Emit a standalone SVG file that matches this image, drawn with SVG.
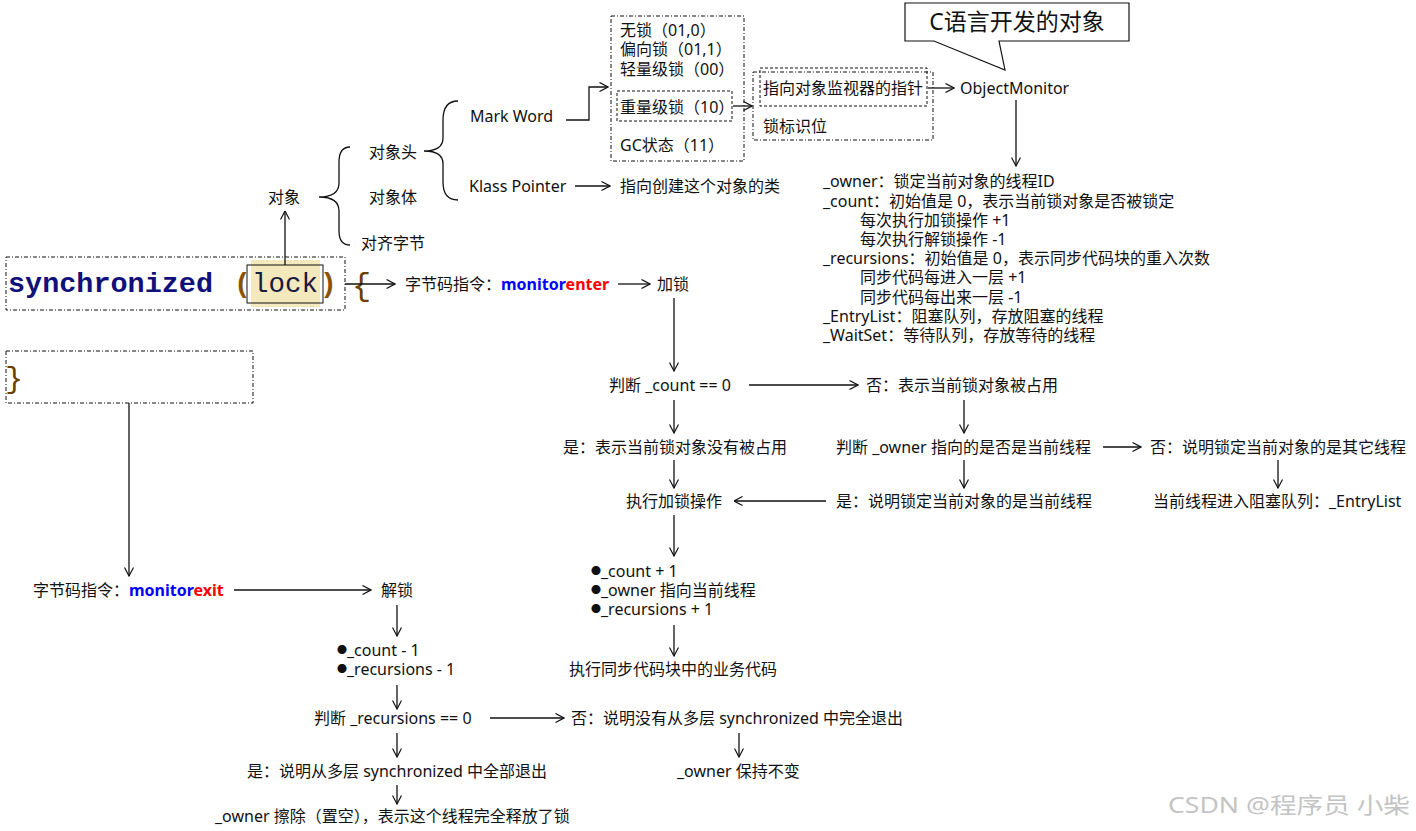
<svg xmlns="http://www.w3.org/2000/svg" width="1416" height="831" viewBox="0 0 1416 831">
<defs>
<marker id="arr" viewBox="0 0 10 10" refX="9.5" refY="5" markerWidth="10" markerHeight="10" markerUnits="userSpaceOnUse" orient="auto"><path d="M1,0.5 L9.5,5 L1,9.5" fill="none" stroke="#111" stroke-width="1.2"/></marker>
<style>
text{font-family:"Noto Sans","Noto Sans CJK SC",sans-serif;font-size:16px;fill:#111;dominant-baseline:central}
.code{font-family:"Liberation Mono","DejaVu Sans Mono",monospace;font-size:28px;font-weight:bold}
.b{font-weight:bold}
.blue{fill:#0000ff}
.red{fill:#ff0000}
.bul{font-size:10px}
.dd{fill:none;stroke:#111;stroke-width:1;stroke-dasharray:4 2 1 2}
.ds{fill:none;stroke:#111;stroke-width:1;stroke-dasharray:3 2}
.c{fill:none;stroke:#111;stroke-width:1.3}
.a{fill:none;stroke:#111;stroke-width:1.3;marker-end:url(#arr)}
</style>
</defs>
<rect width="1416" height="831" fill="#fff"/>

<g id="sync">
<rect class="dd" x="6" y="257" width="339" height="53"/>
<rect x="251" y="260" width="69" height="47" fill="#f4e8bd"/>
<rect x="247" y="265" width="76" height="38" fill="none" stroke="#111" stroke-width="1"/>
<text class="code" x="8" y="284" textLength="205" lengthAdjust="spacingAndGlyphs" style="fill:#10107a">synchronized</text>
<text class="code" x="234" y="284" style="fill:#8a5200">(</text>
<text class="code" x="252" y="284" textLength="66" lengthAdjust="spacingAndGlyphs" style="fill:#1a1a40;font-weight:normal">lock</text>
<text class="code" x="320" y="284" style="fill:#8a5200">)</text>
<text class="code" x="352" y="286" style="fill:#6a4000;font-weight:normal;font-size:32px">{</text>
</g>

<g id="closebrace">
<rect class="dd" x="6" y="351" width="247" height="52"/>
<text class="code" x="5" y="380" style="fill:#6a4000;font-weight:normal;font-size:30px">}</text>
</g>

<g id="obj">
<text x="268" y="197">对象</text>
<path class="c" d="M350,147 Q339,147 339,162 L339,183 Q339,197 319,197 Q339,197 339,211 L339,231 Q339,245 350,245"/>
<text x="369" y="152">对象头</text>
<text x="369" y="197">对象体</text>
<text x="361" y="243">对齐字节</text>
<path class="c" d="M458,101 Q443,101 443,120 L443,138 Q443,151 424,151 Q443,151 443,164 L443,182 Q443,200 458,200"/>
<text x="470" y="116">Mark Word</text>
<text x="469" y="186">Klass Pointer</text>
<text x="620" y="186">指向创建这个对象的类</text>
</g>

<g id="markword-box">
<rect class="dd" x="611" y="16" width="133" height="145"/>
<text><tspan x="620" y="30">无锁（01,0）</tspan><tspan x="620" y="49">偏向锁（01,1）</tspan><tspan x="620" y="69">轻量级锁（00）</tspan></text>
<rect class="ds" x="617" y="91" width="115" height="30"/>
<text x="620" y="107">重量级锁（10）</text>
<text x="620" y="145">GC状态（11）</text>
</g>

<g id="heavy-box">
<rect class="dd" x="753" y="72" width="180" height="68"/>
<rect class="ds" x="760" y="68" width="167" height="38"/>
<text x="763" y="88">指向对象监视器的指针</text>
<text x="763" y="126">锁标识位</text>
</g>

<g id="callout">
<path d="M905,3 H1129 V41 H999 L1005,70 L934,41 H905 Z" fill="#fff" stroke="#111" stroke-width="1.2"/>
<text x="1017" y="21" text-anchor="middle" style="font-size:23px">C语言开发的对象</text>
</g>

<g id="objectmonitor">
<text x="960" y="88">ObjectMonitor</text>
</g>

<g id="fields">
<text><tspan x="823" y="181">_owner：锁定当前对象的线程ID</tspan><tspan x="823" y="201">_count：初始值是 0，表示当前锁对象是否被锁定</tspan><tspan x="860" y="220">每次执行加锁操作 +1</tspan><tspan x="860" y="239">每次执行解锁操作  -1</tspan><tspan x="823" y="258">_recursions：初始值是 0，表示同步代码块的重入次数</tspan><tspan x="860" y="277">同步代码每进入一层 +1</tspan><tspan x="860" y="297">同步代码每出来一层 -1</tspan><tspan x="823" y="316">_EntryList：阻塞队列，存放阻塞的线程</tspan><tspan x="823" y="335">_WaitSet：等待队列，存放等待的线程</tspan></text>
</g>

<g id="enter">
<text x="405" y="284">字节码指令：<tspan class="b blue">monitor</tspan><tspan class="b red">enter</tspan></text>
</g>
<g id="lock-n"><text x="657" y="284">加锁</text></g>
<g id="judge-count"><text x="609" y="385">判断 _count == 0</text></g>
<g id="count-no"><text x="866" y="385">否：表示当前锁对象被占用</text></g>
<g id="count-yes"><text x="563" y="447">是：表示当前锁对象没有被占用</text></g>
<g id="judge-owner"><text x="836" y="447">判断 _owner 指向的是否是当前线程</text></g>
<g id="owner-no"><text x="1150" y="447">否：说明锁定当前对象的是其它线程</text></g>
<g id="entrylist"><text x="1153" y="501">当前线程进入阻塞队列：_EntryList</text></g>
<g id="owner-yes"><text x="836" y="501">是：说明锁定当前对象的是当前线程</text></g>
<g id="do-lock"><text x="626" y="501">执行加锁操作</text></g>
<g id="inc">
<text><tspan x="591" y="571" class="bul">●</tspan><tspan>_count + 1</tspan><tspan x="591" y="590" class="bul">●</tspan><tspan>_owner 指向当前线程</tspan><tspan x="591" y="609" class="bul">●</tspan><tspan>_recursions + 1</tspan></text>
</g>
<g id="business"><text x="569" y="669">执行同步代码块中的业务代码</text></g>

<g id="exit">
<text x="33" y="590">字节码指令：<tspan class="b blue">monitor</tspan><tspan class="b red">exit</tspan></text>
</g>
<g id="unlock"><text x="381" y="590">解锁</text></g>
<g id="dec">
<text><tspan x="337" y="650" class="bul">●</tspan><tspan>_count - 1</tspan><tspan x="337" y="669" class="bul">●</tspan><tspan>_recursions - 1</tspan></text>
</g>
<g id="judge-rec"><text x="314" y="718">判断 _recursions == 0</text></g>
<g id="rec-no"><text x="571" y="718">否：说明没有从多层 synchronized 中完全退出</text></g>
<g id="rec-yes"><text x="247" y="771">是：说明从多层 synchronized 中全部退出</text></g>
<g id="owner-keep"><text x="677" y="771">_owner 保持不变</text></g>
<g id="owner-clear"><text x="215" y="816">_owner 擦除（置空），表示这个线程完全释放了锁</text></g>

<g id="watermark"><text x="1168" y="804" textLength="242" lengthAdjust="spacingAndGlyphs" style="font-size:22px;fill:#c4c4c4">CSDN @程序员 小柴</text></g>

<g id="connectors">
<line class="a" x1="285" y1="265" x2="285" y2="211"/>
<path class="a" d="M566,120 H589 V87 H608"/>
<line class="a" x1="575" y1="186" x2="610" y2="186"/>
<line class="a" x1="733" y1="106" x2="752" y2="106"/>
<line class="a" x1="928" y1="88" x2="954" y2="88"/>
<line class="a" x1="1016" y1="100" x2="1016" y2="166"/>
<line class="a" x1="345" y1="284" x2="395" y2="284"/>
<line class="a" x1="618" y1="284" x2="650" y2="284"/>
<line class="a" x1="674" y1="298" x2="674" y2="371"/>
<line class="a" x1="749" y1="385" x2="858" y2="385"/>
<line class="a" x1="674" y1="400" x2="674" y2="433"/>
<line class="a" x1="964" y1="400" x2="964" y2="433"/>
<line class="a" x1="1103" y1="447" x2="1141" y2="447"/>
<line class="a" x1="1278" y1="460" x2="1278" y2="488"/>
<line class="a" x1="964" y1="460" x2="964" y2="488"/>
<line class="a" x1="674" y1="460" x2="674" y2="488"/>
<line class="a" x1="826" y1="501" x2="734" y2="501"/>
<line class="a" x1="674" y1="515" x2="674" y2="556"/>
<line class="a" x1="674" y1="625" x2="674" y2="656"/>
<line class="a" x1="129" y1="403" x2="129" y2="576"/>
<line class="a" x1="234" y1="590" x2="371" y2="590"/>
<line class="a" x1="397" y1="605" x2="397" y2="636"/>
<line class="a" x1="397" y1="685" x2="397" y2="709"/>
<line class="a" x1="490" y1="718" x2="564" y2="718"/>
<line class="a" x1="397" y1="733" x2="397" y2="757"/>
<line class="a" x1="739" y1="733" x2="739" y2="757"/>
<line class="a" x1="397" y1="785" x2="397" y2="804"/>
</g>
</svg>
